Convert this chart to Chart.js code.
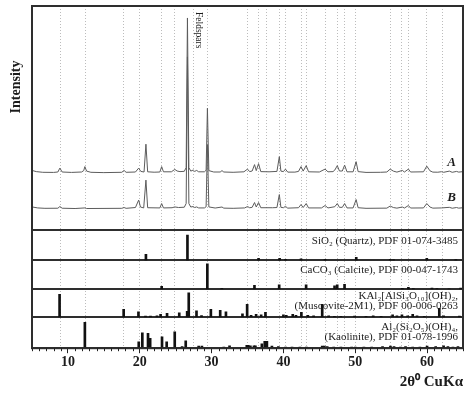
<!DOCTYPE html>
<html><head><meta charset="utf-8">
<script src="https://cdn.jsdelivr.net/npm/chart.js@4"></script>
<style>html,body{margin:0;padding:0;background:#fff;}canvas{display:block}</style>
</head><body>
<canvas id="c" width="474" height="399"></canvas>
<script>
// ---- data ----
const X_MIN = 5, X_MAX = 65;
const majorTicks = [10, 20, 30, 40, 50, 60];
const axisTitle = '2θ⁰ CuKα';
const yTitle = 'Intensity';
const OFFSET_A = 58, OFFSET_B = 22;   // vertical offsets of the two patterns
const guideLines = [8.9, 12.4, 17.8, 19.9, 23.05, 24.9, 27.45, 29.42, 35.0, 36.5, 37.7, 39.4, 40.25, 42.45, 43.2, 45.8, 47.5, 48.5, 50.1, 54.85, 56.5, 57.4, 59.95, 62.2];

const patternA = [[5.0,2.2],[5.6,1.0],[6.5,0.3],[8.0,0.2],[8.6,0.6],[8.88,4.5],[9.2,0.6],[10.5,0.2],[11.9,0.6],[12.2,2],[12.36,6],[12.6,1.5],[13.2,0.3],[15.0,0],[17.5,0.3],[17.82,2.2],[18.1,0.3],[19.4,0.6],[19.85,4.5],[20.15,1.2],[20.6,0.6],[20.86,28.5],[21.1,0.8],[22.0,0.4],[22.8,0.6],[23.05,6],[23.3,0.8],[24.4,0.8],[24.88,3.2],[25.2,1.6],[25.6,1.0],[26.2,1.3],[26.46,5],[26.64,155],[26.84,5],[27.1,1.5],[27.45,2.6],[27.65,1.2],[27.92,2.2],[28.2,0.8],[29.0,0.8],[29.24,2.4],[29.42,64.5],[29.62,2],[30.3,0.6],[31.2,0.6],[31.45,2],[31.7,0.6],[33.0,0.3],[34.5,0.8],[35.0,3.5],[35.3,1],[35.65,1.6],[35.98,8],[36.22,2],[36.54,9],[36.85,1],[38.0,0.8],[39.1,1.2],[39.43,16],[39.65,1.5],[40.0,1],[40.28,3.5],[40.6,0.5],[41.6,0.5],[42.1,1.2],[42.45,6],[42.75,1.5],[43.17,7],[43.5,0.8],[45.0,0.6],[45.8,3.5],[46.2,0.8],[46.9,1],[47.15,2.5],[47.5,7],[47.8,1.6],[48.2,1.6],[48.52,7.5],[48.85,0.8],[49.7,0.8],[50.12,11],[50.4,1],[51.5,0.2],[53.5,0.3],[54.4,0.6],[54.86,3.5],[55.3,1.5],[55.8,0.5],[56.55,2.2],[56.85,0.6],[57.4,3.5],[57.7,0.6],[59.5,0.8],[59.96,6.5],[60.4,1.8],[60.8,0.5],[61.5,0.4],[62.0,0.9],[62.3,0.3],[63.1,1.5],[63.5,0.3],[64.1,1.2],[64.4,0.5],[65.0,1.0]];

const patternB = [[5.0,1.6],[5.8,0.6],[6.8,0.2],[8.6,0.3],[8.88,2],[9.2,0.3],[11.0,0],[12.36,0.6],[12.6,0],[17.5,0.2],[17.82,1],[18.1,0.2],[19.4,1],[19.85,8.5],[20.1,1.5],[20.55,0.6],[20.86,28.5],[21.1,0.8],[22.8,0.6],[23.05,5],[23.3,0.6],[24.5,0.8],[24.88,1.6],[25.4,1],[26.2,1.3],[26.46,5],[26.64,152],[26.84,5],[27.1,1.5],[27.45,2],[27.65,1],[27.92,1.6],[28.2,0.6],[29.0,0.6],[29.24,1.8],[29.42,64],[29.62,1.6],[30.5,0.5],[31.45,1.5],[31.7,0.4],[33.0,0.2],[34.6,0.6],[35.0,2],[35.3,0.8],[35.65,1.2],[35.98,6],[36.22,1.5],[36.54,6],[36.85,0.8],[38.5,0.8],[39.1,1],[39.43,14],[39.65,1.2],[40.0,0.8],[40.28,2.2],[40.6,0.4],[42.1,0.8],[42.45,4],[42.75,1],[43.17,5],[43.5,0.6],[45.3,0.6],[45.8,3],[46.2,0.6],[47.15,1.8],[47.5,5],[47.8,1.2],[48.2,1.2],[48.52,5],[48.85,0.6],[49.7,0.6],[50.12,9],[50.4,0.8],[51.5,0.2],[54.4,0.4],[54.86,2.5],[55.3,1],[55.8,0.4],[56.55,1.5],[56.85,0.5],[57.4,3],[57.7,0.5],[59.5,0.6],[59.96,5],[60.4,1.5],[60.8,0.4],[62.0,0.6],[63.1,1.2],[63.5,0.3],[64.1,1],[64.4,0.4],[65.0,0.8]];

const quartzPeaks = [[20.86,6],[26.64,25.5],[36.54,2],[39.47,2],[40.29,1.2],[42.45,1.5],[45.79,1.2],[50.14,3],[54.87,1.2],[55.33,0.8],[59.96,2],[64.0,0.8]];
const calcitePeaks = [[23.05,3],[29.41,25.5],[31.42,1],[35.97,4],[39.41,4.5],[43.16,4.5],[47.12,3.5],[47.49,4.5],[48.51,5],[56.56,1],[57.40,2],[58.08,0.8],[60.68,1.2],[61.37,0.8],[63.06,0.6],[64.67,1.2]];
const muscovitePeaks = [[8.84,23],[17.76,8],[19.82,5.5],[20.8,1.2],[21.5,1.2],[22.4,1.5],[22.9,3],[23.8,4],[25.5,4.5],[26.6,6],[26.82,24.5],[27.9,6.5],[28.6,1.8],[29.9,8],[31.2,7],[32.0,5.5],[34.3,3.5],[34.95,13],[35.5,2],[36.2,3],[36.9,2.5],[37.5,5],[40.0,2.5],[40.4,2],[41.3,3],[41.75,2],[42.5,5],[43.4,2],[44.2,1.5],[45.4,13],[46.3,1.5],[47.1,1],[48.0,1],[49.9,1.2],[51.5,1],[52.5,1.5],[53.6,1],[55.2,2.5],[55.8,1.5],[56.5,2.5],[57.3,1.5],[58.0,3],[58.6,1.5],[59.6,1],[61.7,9],[62.3,1.5],[64.5,1.2]];
const kaolinitePeaks = [[12.36,26],[19.86,6.5],[20.36,15.5],[21.15,15],[21.45,10],[23.1,11.5],[23.75,6.5],[24.87,16.5],[25.9,1.5],[26.4,7.5],[28.2,2],[28.65,2],[31.7,1],[32.5,2.5],[34.9,3],[35.1,3],[35.4,2.5],[35.9,2.5],[36.1,2.5],[37.0,4.5],[37.4,7],[37.7,7],[38.4,2],[39.3,1.5],[40.3,1],[41.2,1],[42.3,1],[43.2,1],[45.4,2],[45.7,2],[46.1,1.5],[47.0,1],[48.0,1.2],[49.5,1],[50.0,1],[51.2,1],[52.3,1.2],[53.8,1.5],[54.9,2],[55.4,1.5],[56.3,1],[57.0,1.5],[58.0,1.2],[59.0,1],[60.0,2],[61.2,1.5],[62.3,2.5],[62.9,1.5],[63.6,1],[64.3,1.5]];

const panelLabels = {
  yQ: ['SiO₂ (Quartz), PDF 01-074-3485'],
  yC: ['CaCO₃ (Calcite), PDF 00-047-1743'],
  yM: ['KAl₂[AlSi₃O₁₀](OH)₂,', '(Muscovite-2M1), PDF 00-006-0263'],
  yK: ['Al₂(Si₂O₅)(OH)₄,', '(Kaolinite), PDF 01-078-1996']
};
const patternNames = ['A', 'B'];
const peakName = 'Feldspars';

// ---- chart ----
const SERIF = '"Liberation Serif", "Times New Roman", serif';
const isMajor = v => majorTicks.some(m => Math.abs(m - v) < 1e-6);

const lineDs = (pts, off) => ({
  type: 'line', data: pts.map(([t, v]) => ({x: t, y: v + off})),
  xAxisID: 'x', yAxisID: 'y', borderColor: '#5c5c5c', borderWidth: 1,
  pointRadius: 0, tension: 0, fill: false
});
const barDs = (pts, axis) => ({
  type: 'bar', data: pts.map(([t, v]) => ({x: t, y: v})),
  xAxisID: 'x', yAxisID: axis, backgroundColor: '#111', borderWidth: 0,
  barThickness: 2, grouped: false
});
const panelAxis = (max, stackWeight, weight) => ({
  type: 'linear', position: 'left', stack: 'panels', stackWeight, weight,
  min: 0, max, offset: false,
  afterBuildTicks: s => { s.ticks = [{value: s.max}]; },
  ticks: {display: false},
  grid: {drawTicks: false, color: '#2e2e2e', lineWidth: 2},
  border: {display: false}
});

const annot = {
  id: 'annot',
  afterDatasetsDraw(chart) {
    const {ctx, chartArea: ca, scales} = chart;
    ctx.save();
    // frame
    ctx.strokeStyle = '#2e2e2e'; ctx.lineWidth = 2;
    ctx.strokeRect(ca.left, ca.top, ca.right - ca.left, ca.bottom - ca.top);
    // minor ticks of the x scale
    ctx.strokeStyle = '#222'; ctx.lineWidth = 1;
    scales.x.ticks.forEach(t => {
      if (isMajor(t.value)) return;
      const px = Math.round(scales.x.getPixelForValue(t.value)) + 0.5;
      ctx.beginPath(); ctx.moveTo(px, ca.bottom); ctx.lineTo(px, ca.bottom + 3); ctx.stroke();
    });
    ctx.fillStyle = '#1c1c1c';
    // panel labels
    ctx.font = '11px ' + SERIF;
    ctx.textAlign = 'right'; ctx.textBaseline = 'middle';
    const dy = {yQ: [11], yC: [10], yM: [6.5, 17], yK: [10, 19.5]};
    Object.keys(panelLabels).forEach(k => {
      panelLabels[k].forEach((t, i) => ctx.fillText(t, ca.right - 5, scales[k].top + dy[k][i]));
    });
    // pattern labels
    ctx.font = 'italic bold 13px ' + SERIF;
    ctx.textAlign = 'center';
    const xl = scales.x.getPixelForValue(63.4);
    ctx.fillText(patternNames[0], xl, scales.y.getPixelForValue(OFFSET_A + 10));
    ctx.fillText(patternNames[1], xl, scales.y.getPixelForValue(OFFSET_B + 11));
    // Feldspars
    ctx.save();
    ctx.translate(scales.x.getPixelForValue(28.15), ca.top + 6);
    ctx.rotate(Math.PI / 2);
    ctx.font = '9.5px ' + SERIF;
    ctx.textAlign = 'left';
    ctx.fillText(peakName, 0, 0);
    ctx.restore();
    // y title
    ctx.save();
    ctx.translate(ca.left - 16, ca.top + 81);
    ctx.rotate(-Math.PI / 2);
    ctx.font = 'bold 14px ' + SERIF;
    ctx.textAlign = 'center';
    ctx.fillText(yTitle, 0, 0);
    ctx.restore();
    ctx.restore();
  }
};

new Chart(document.getElementById('c'), {
  type: 'line',
  data: {datasets: [
    lineDs(patternA, OFFSET_A),
    lineDs(patternB, OFFSET_B),
    barDs(quartzPeaks, 'yQ'),
    barDs(calcitePeaks, 'yC'),
    barDs(muscovitePeaks, 'yM'),
    barDs(kaolinitePeaks, 'yK')
  ]},
  options: {
    responsive: false, animation: false, events: [],
    layout: {padding: {left: 32, top: 6, right: 11, bottom: 8}},
    plugins: {legend: {display: false}, tooltip: {enabled: false}},
    scales: {
      x: {
        type: 'linear', position: 'bottom', min: X_MIN, max: X_MAX, offset: false,
        ticks: {stepSize: 1, autoSkip: false, maxRotation: 0, padding: 1, color: '#1c1c1c',
          font: {family: SERIF, size: 14, weight: 'bold'},
          callback: v => isMajor(v) ? String(v) : ''},
        grid: {drawOnChartArea: false, drawTicks: true, tickLength: 5, tickWidth: 1, offset: false,
          tickColor: c => (c.tick && isMajor(c.tick.value)) ? '#222' : 'rgba(0,0,0,0)'},
        border: {display: true, color: '#2e2e2e', width: 2},
        title: {display: true, text: axisTitle, align: 'end', color: '#1c1c1c',
          font: {family: SERIF, size: 15, weight: 'bold'}, padding: {top: 1, bottom: 0}}
      },
      x2: {
        type: 'linear', position: 'top', min: X_MIN, max: X_MAX, offset: false,
        afterBuildTicks: s => { s.ticks = guideLines.map(v => ({value: v})); },
        ticks: {display: false, autoSkip: false},
        grid: {drawOnChartArea: true, drawTicks: false, color: '#bcbcbc', lineWidth: 1},
        border: {display: false, dash: [1, 2]}
      },
      y: panelAxis(225, 225, 5),
      yQ: panelAxis(30, 30, 4),
      yC: panelAxis(29, 29, 3),
      yM: panelAxis(28, 28, 2),
      yK: panelAxis(31, 31, 1)
    }
  },
  plugins: [annot]
});
</script>
</body></html>
